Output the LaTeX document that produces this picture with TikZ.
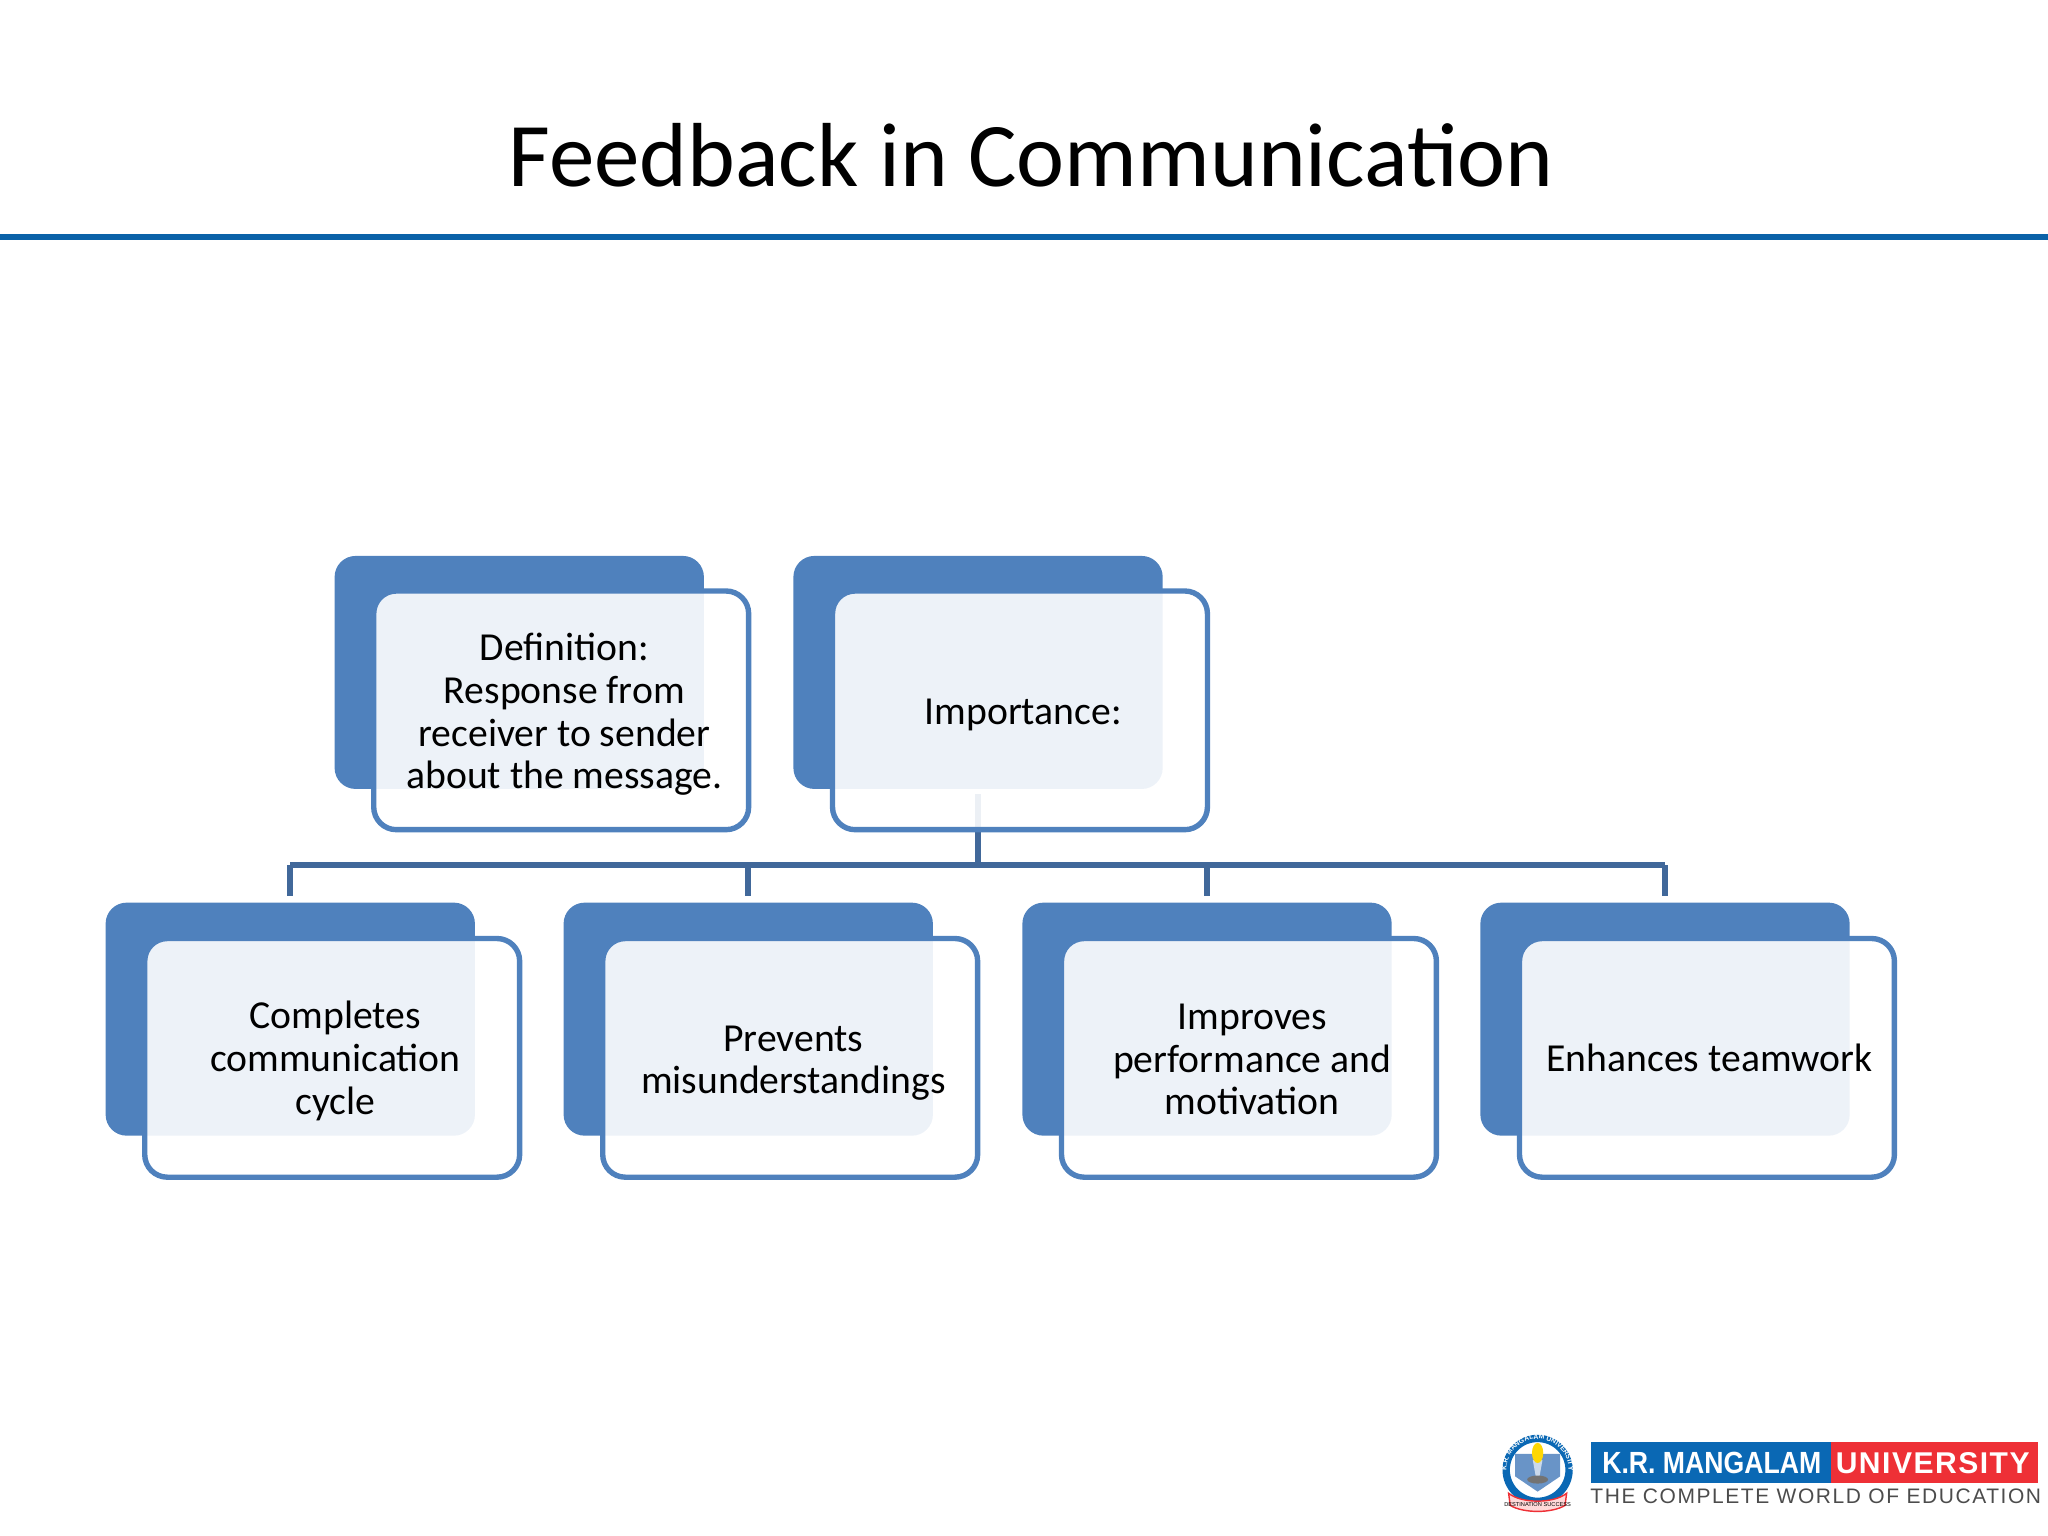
\documentclass[tikz,border=0pt]{standalone}
\usepackage{fontspec}
\setmainfont{Carlito}
\newfontfamily\logofont{Liberation Sans}
\newfontfamily\logonarrow[FakeStretch=0.87]{Liberation Sans}
\usetikzlibrary{shapes,decorations.text}
\definecolor{cardblue}{HTML}{4F81BD}
\definecolor{linkblue}{HTML}{41689A}
\definecolor{rulerblue}{HTML}{0B62A8}
\definecolor{logoblue}{HTML}{0A68B4}
\definecolor{logored}{HTML}{EE3036}
\tikzset{
  backbox/.style={rectangle, fill=cardblue, rounded corners=0.26cm,
    minimum width=4.58cm, minimum height=2.89cm},
  cardbox/.style={rectangle, draw=cardblue, line width=1.9pt, fill=white, fill opacity=0.9,
    draw opacity=1, rounded corners=0.28cm, minimum width=4.65cm, minimum height=2.96cm},
  cardtext/.style={align=center, font=\fontsize{14}{15.1}\selectfont},
  link/.style={draw=linkblue, line width=2.1pt}
}
\begin{document}
\begin{tikzpicture}
  \useasboundingbox (0,0) rectangle (25.4,19.05);

  \node[anchor=base] (title) at (12.79,16.74) {\fontsize{32.1}{38}\selectfont Feedback in Communication};
  \fill[rulerblue] (0,16.075) rectangle (25.4,16.142);

  % back boxes
  \node[backbox] (defBack) at (6.44,10.71) {};
  \node[backbox] (impBack) at (12.13,10.71) {};
  \node[backbox] (compBack) at (3.60,6.41) {};
  \node[backbox] (prevBack) at (9.28,6.41) {};
  \node[backbox] (perfBack) at (14.97,6.41) {};
  \node[backbox] (teamBack) at (20.65,6.41) {};

  % connectors
  \coordinate (bus) at (12.13,8.32);
  \coordinate (busL) at (3.60,8.32);
  \coordinate (busR) at (20.65,8.32);
  \draw[link] ([yshift=-0.06cm]impBack.south) -- (bus);
  \draw[link] (busL) -- (busR);
  \draw[link] (busL) -- ([yshift=0.08cm]compBack.north);
  \draw[link] (prevBack.north |- bus) -- ([yshift=0.08cm]prevBack.north);
  \draw[link] (perfBack.north |- bus) -- ([yshift=0.08cm]perfBack.north);
  \draw[link] (busR) -- ([yshift=0.08cm]teamBack.north);

  % front boxes
  \node[cardbox] (defCard) at (6.96,10.24) {};
  \node[cardbox] (impCard) at (12.65,10.24) {};
  \node[cardbox] (compCard) at (4.12,5.93) {};
  \node[cardbox] (prevCard) at (9.80,5.93) {};
  \node[cardbox] (perfCard) at (15.49,5.93) {};
  \node[cardbox] (teamCard) at (21.17,5.93) {};

  \node[cardtext] (defText) at ([xshift=0.04cm,yshift=-0.05cm]defCard.center) {Definition:\\Response from\\receiver to sender\\about the message.};
  \node[cardtext] (impText) at ([xshift=0.04cm,yshift=-0.06cm]impCard.center) {Importance:};
  \node[cardtext] (compText) at ([xshift=0.04cm,yshift=-0.04cm]compCard.center) {Completes\\communication\\cycle};
  \node[cardtext] (prevText) at ([xshift=0.04cm,yshift=-0.065cm]prevCard.center) {Prevents\\misunderstandings};
  \node[cardtext] (perfText) at ([xshift=0.04cm,yshift=-0.02cm]perfCard.center) {Improves\\performance and\\motivation};
  \node[cardtext] (teamText) at ([xshift=0.03cm,yshift=0cm]teamCard.center) {Enhances teamwork};

  % logo
  \fill[logoblue] (19.73,1.166) rectangle (22.71,0.657);
  \fill[logored] (22.71,1.166) rectangle (25.28,0.657);
  \node (logoName) at (21.23,0.908) {\logonarrow\bfseries\color{white}\fontsize{10.8}{12}\selectfont K.R. MANGALAM};
  \node (logoUni) at (23.97,0.908) {\logofont\bfseries\color{white}\addfontfeature{LetterSpace=5}\fontsize{10.6}{12}\selectfont UNIVERSITY};
  \node (logoTag) at (22.52,0.49) {\logofont\color{black!70}\addfontfeature{LetterSpace=7.5}\fontsize{7.4}{9}\selectfont THE COMPLETE WORLD OF EDUCATION};

  \begin{scope}[shift={(19.07,0.82)}]
    \draw[logoblue, line width=2.6pt] (0,0) circle (0.39);
    \path[decorate, decoration={text along path, text align=center,
      text={|\logofont\bfseries\fontsize{2.4}{3}\selectfont\color{white}|K.R. MANGALAM UNIVERSITY}}]
      (-0.36,-0.14) arc (201:-21:0.385);
    \fill[cardblue!85] (-0.28,0.2) -- (0.28,0.2) -- (0.28,-0.08) -- (0,-0.27) -- (-0.28,-0.08) -- cycle;
    \fill[white!70!cardblue] (-0.06,0.12) -- (0.06,0.12) -- (0.02,-0.1) -- (-0.02,-0.1) -- cycle;
    \fill[yellow!75!orange] (0,0.21) ellipse (0.07 and 0.125);
    \fill[black!55] (0,-0.12) ellipse (0.13 and 0.05);
    \fill[red!15, draw=logored, line width=0.5pt] (-0.36,-0.29) .. controls (-0.2,-0.42) and (0.2,-0.42) .. (0.36,-0.29)
      -- (0.34,-0.44) .. controls (0.18,-0.54) and (-0.18,-0.54) .. (-0.34,-0.44) -- cycle;
    \node[inner sep=0pt] (logoMotto) at (0,-0.43) {\logofont\fontsize{2}{2.4}\selectfont DESTINATION SUCCESS};
  \end{scope}
\end{tikzpicture}
\end{document}
